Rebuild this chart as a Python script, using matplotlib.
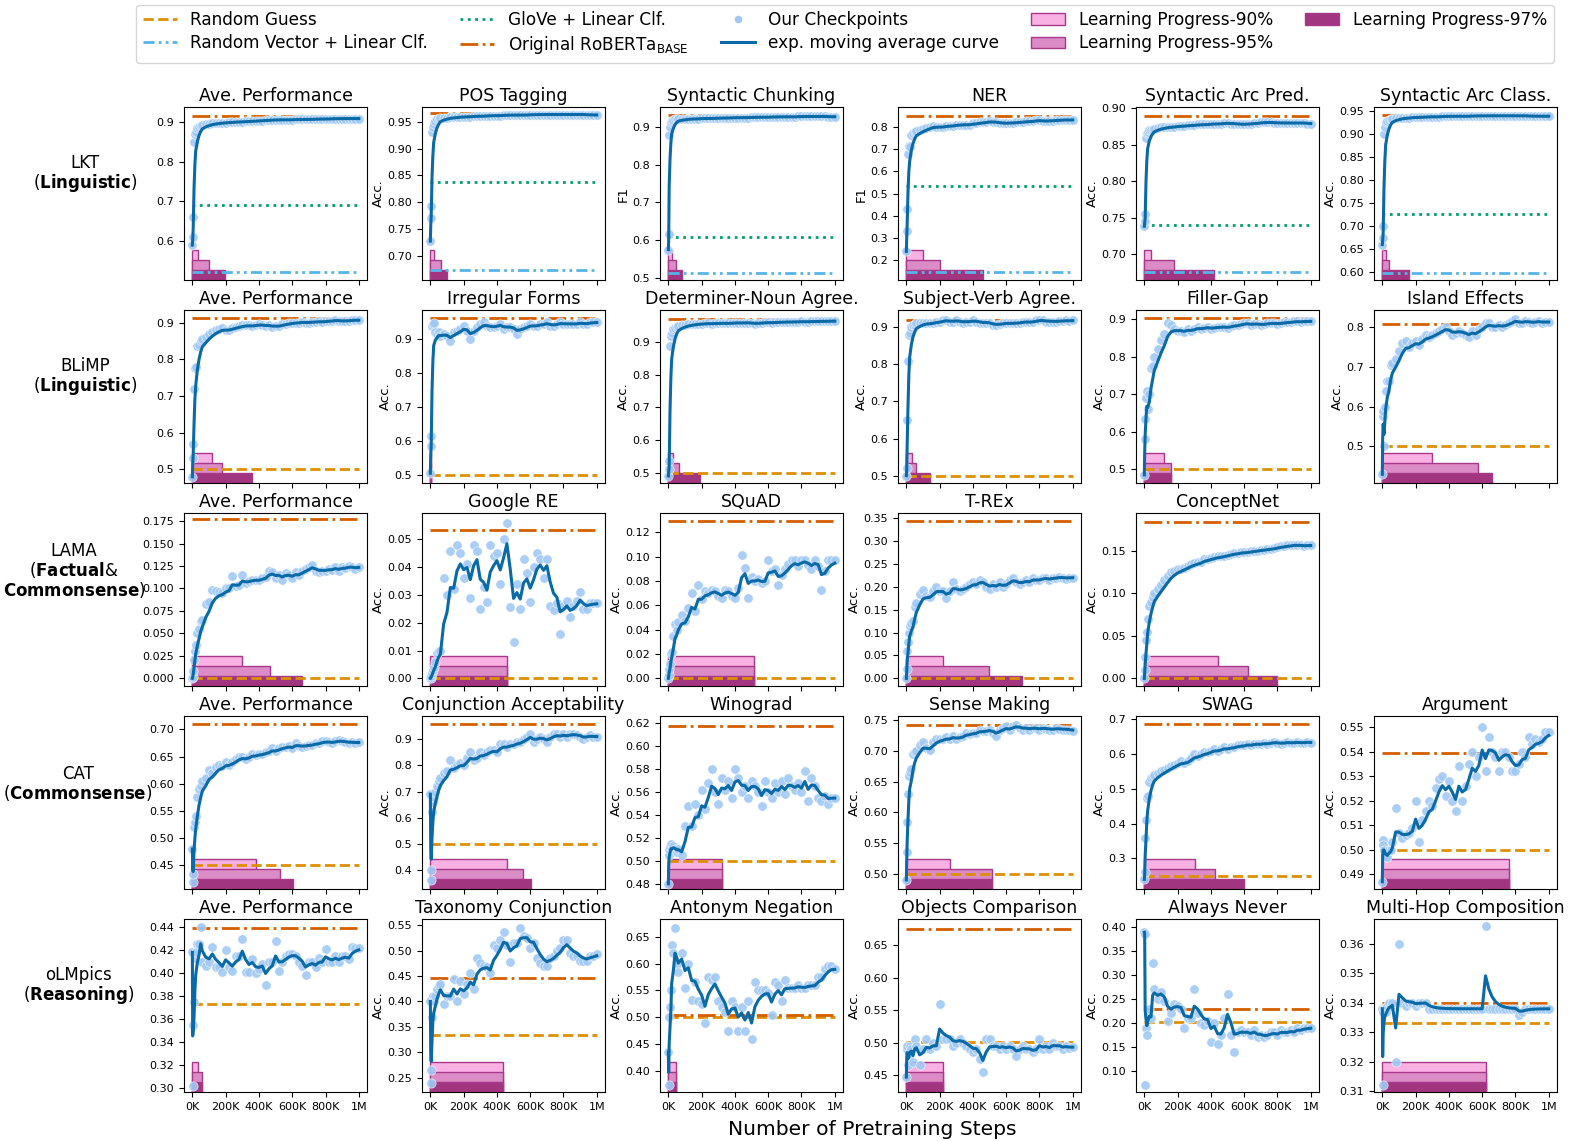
import numpy as np
import pandas as pd
import matplotlib
matplotlib.use('Agg')
import matplotlib.pyplot as plt
from matplotlib.lines import Line2D
from matplotlib.patches import Patch
from matplotlib.ticker import MultipleLocator

# checkpoint steps (in thousands)
STEPS_K = [0, 2, 5, 10, 15, 20, 30, 40, 50, 60,
           80, 100, 120, 140, 160, 180, 200, 220, 240, 260,
           280, 300, 320, 340, 360, 380, 400, 420, 440, 460,
           480, 500, 520, 540, 560, 580, 600, 620, 640, 660,
           680, 700, 720, 740, 760, 780, 800, 820, 840, 860,
           880, 900, 920, 940, 960, 980, 1000]

# ---- LKT ----
LKT_AVE = [0.59, 0.61, 0.66, 0.85, 0.868, 0.875, 0.884, 0.888, 0.89, 0.892,
           0.894, 0.895, 0.896, 0.897, 0.897, 0.898, 0.898, 0.899, 0.899, 0.900,
           0.900, 0.900, 0.901, 0.901, 0.902, 0.902, 0.903, 0.903, 0.904, 0.904,
           0.905, 0.905, 0.905, 0.905, 0.905, 0.905, 0.905, 0.906, 0.906, 0.906,
           0.906, 0.906, 0.906, 0.907, 0.907, 0.907, 0.907, 0.907, 0.908, 0.908,
           0.908, 0.908, 0.908, 0.908, 0.908, 0.908, 0.908]
POS = [0.727, 0.77, 0.792, 0.932, 0.94, 0.946, 0.952, 0.955, 0.956, 0.957,
       0.958, 0.958, 0.959, 0.959, 0.959, 0.960, 0.960, 0.960, 0.960, 0.961,
       0.961, 0.961, 0.961, 0.962, 0.962, 0.962, 0.962, 0.962, 0.963, 0.963,
       0.963, 0.963, 0.963, 0.963, 0.963, 0.963, 0.964, 0.964, 0.964, 0.964,
       0.964, 0.964, 0.964, 0.964, 0.964, 0.964, 0.964, 0.964, 0.964, 0.964,
       0.964, 0.964, 0.964, 0.963, 0.963, 0.963, 0.963]
CHUNK = [0.575, 0.615, 0.88, 0.90, 0.912, 0.916, 0.918, 0.920, 0.920, 0.921,
         0.921, 0.921, 0.922, 0.922, 0.922, 0.922, 0.923, 0.923, 0.923, 0.923,
         0.923, 0.924, 0.924, 0.924, 0.924, 0.925, 0.925, 0.925, 0.925, 0.925,
         0.925, 0.926, 0.926, 0.926, 0.926, 0.926, 0.926, 0.927, 0.927, 0.927,
         0.927, 0.927, 0.927, 0.927, 0.927, 0.928, 0.928, 0.928, 0.928, 0.928,
         0.928, 0.928, 0.928, 0.928, 0.927, 0.927, 0.927]
NER = [0.24, 0.33, 0.43, 0.68, 0.715, 0.71, 0.765, 0.77, 0.775, 0.78,
       0.785, 0.79, 0.795, 0.80, 0.805, 0.80, 0.80, 0.80, 0.805, 0.805,
       0.805, 0.81, 0.81, 0.81, 0.81, 0.81, 0.815, 0.815, 0.82, 0.82,
       0.822, 0.825, 0.822, 0.82, 0.815, 0.815, 0.815, 0.818, 0.818, 0.82,
       0.822, 0.822, 0.825, 0.825, 0.825, 0.83, 0.83, 0.825, 0.825, 0.828,
       0.828, 0.83, 0.83, 0.832, 0.832, 0.83, 0.832]
ARC_PRED = [0.738, 0.745, 0.755, 0.86, 0.866, 0.868, 0.87, 0.87, 0.871, 0.872,
            0.873, 0.874, 0.874, 0.875, 0.875, 0.875, 0.876, 0.876, 0.876, 0.877,
            0.877, 0.877, 0.878, 0.878, 0.878, 0.878, 0.879, 0.879, 0.879, 0.879,
            0.88, 0.88, 0.879, 0.879, 0.878, 0.878, 0.878, 0.879, 0.879, 0.88,
            0.88, 0.881, 0.881, 0.881, 0.881, 0.88, 0.88, 0.88, 0.88, 0.88,
            0.88, 0.88, 0.88, 0.88, 0.88, 0.879, 0.879]
ARC_CLASS = [0.66, 0.675, 0.70, 0.90, 0.915, 0.925, 0.928, 0.93, 0.932, 0.933,
             0.934, 0.934, 0.935, 0.935, 0.935, 0.936, 0.936, 0.936, 0.936, 0.937,
             0.937, 0.937, 0.937, 0.937, 0.938, 0.938, 0.938, 0.938, 0.938, 0.938,
             0.938, 0.938, 0.938, 0.939, 0.939, 0.939, 0.939, 0.939, 0.939, 0.939,
             0.939, 0.939, 0.939, 0.939, 0.939, 0.939, 0.939, 0.939, 0.939, 0.939,
             0.938, 0.938, 0.938, 0.938, 0.938, 0.938, 0.938]

# ---- BLiMP ----
BLIMP_AVE = [0.48, 0.53, 0.57, 0.72, 0.775, 0.78, 0.835, 0.84, 0.85, 0.855,
             0.86, 0.87, 0.875, 0.88, 0.882, 0.885, 0.88, 0.88, 0.885, 0.888,
             0.89, 0.892, 0.893, 0.892, 0.89, 0.893, 0.895, 0.893, 0.89, 0.892,
             0.888, 0.89, 0.89, 0.895, 0.897, 0.898, 0.9, 0.9, 0.9, 0.902,
             0.9, 0.9, 0.902, 0.902, 0.903, 0.902, 0.903, 0.905, 0.905, 0.907,
             0.905, 0.903, 0.905, 0.905, 0.907, 0.907, 0.906]
IRREGULAR = [0.505, 0.585, 0.615, 0.94, 0.945, 0.947, 0.92, 0.915, 0.92, 0.91,
             0.915, 0.91, 0.895, 0.92, 0.925, 0.93, 0.94, 0.925, 0.90, 0.925,
             0.935, 0.945, 0.95, 0.94, 0.935, 0.935, 0.94, 0.945, 0.93, 0.935,
             0.935, 0.93, 0.915, 0.93, 0.935, 0.94, 0.945, 0.94, 0.94, 0.945,
             0.945, 0.95, 0.94, 0.94, 0.945, 0.95, 0.945, 0.945, 0.945, 0.945,
             0.945, 0.95, 0.945, 0.945, 0.95, 0.95, 0.95]
DET_NOUN = [0.49, 0.51, 0.535, 0.89, 0.92, 0.93, 0.94, 0.945, 0.948, 0.95,
            0.952, 0.953, 0.955, 0.955, 0.956, 0.957, 0.957, 0.958, 0.958, 0.957,
            0.958, 0.958, 0.959, 0.958, 0.958, 0.959, 0.96, 0.96, 0.959, 0.96,
            0.96, 0.958, 0.957, 0.958, 0.96, 0.961, 0.961, 0.96, 0.961, 0.962,
            0.962, 0.962, 0.963, 0.962, 0.963, 0.963, 0.964, 0.963, 0.963, 0.964,
            0.964, 0.964, 0.965, 0.964, 0.965, 0.965, 0.965]
SUBJ_VERB = [0.50, 0.52, 0.65, 0.81, 0.88, 0.885, 0.90, 0.905, 0.905, 0.91,
             0.91, 0.912, 0.912, 0.91, 0.912, 0.915, 0.915, 0.918, 0.92, 0.915,
             0.915, 0.918, 0.915, 0.912, 0.915, 0.915, 0.918, 0.915, 0.912, 0.91,
             0.912, 0.91, 0.905, 0.905, 0.908, 0.91, 0.912, 0.91, 0.91, 0.912,
             0.912, 0.915, 0.915, 0.913, 0.915, 0.918, 0.92, 0.918, 0.915, 0.915,
             0.915, 0.915, 0.917, 0.917, 0.918, 0.917, 0.918]
FILLER_GAP = [0.485, 0.58, 0.635, 0.69, 0.71, 0.66, 0.70, 0.77, 0.775, 0.80,
              0.82, 0.845, 0.86, 0.89, 0.885, 0.875, 0.87, 0.87, 0.865, 0.875,
              0.87, 0.875, 0.88, 0.875, 0.878, 0.88, 0.875, 0.878, 0.88, 0.88,
              0.88, 0.878, 0.882, 0.885, 0.885, 0.888, 0.89, 0.89, 0.885, 0.888,
              0.888, 0.885, 0.887, 0.89, 0.89, 0.89, 0.888, 0.89, 0.892, 0.893,
              0.893, 0.895, 0.895, 0.893, 0.895, 0.895, 0.895]
ISLAND = [0.43, 0.575, 0.59, 0.50, 0.60, 0.64, 0.665, 0.665, 0.705, 0.71,
          0.72, 0.74, 0.76, 0.765, 0.75, 0.76, 0.765, 0.755, 0.77, 0.78,
          0.775, 0.78, 0.785, 0.79, 0.795, 0.80, 0.79, 0.78, 0.785, 0.79,
          0.785, 0.78, 0.775, 0.79, 0.78, 0.795, 0.80, 0.81, 0.81, 0.80,
          0.80, 0.805, 0.80, 0.805, 0.81, 0.815, 0.82, 0.81, 0.81, 0.815,
          0.812, 0.81, 0.812, 0.815, 0.81, 0.812, 0.812]

# ---- LAMA ----
LAMA_AVE = [0.0, 0.002, 0.008, 0.02, 0.03, 0.037, 0.05, 0.055, 0.064, 0.065,
            0.083, 0.085, 0.098, 0.097, 0.096, 0.095, 0.1, 0.1, 0.114, 0.103,
            0.104, 0.115, 0.106, 0.108, 0.11, 0.11, 0.109, 0.112, 0.113, 0.12,
            0.118, 0.112, 0.115, 0.11, 0.117, 0.115, 0.112, 0.118, 0.115, 0.12,
            0.122, 0.124, 0.126, 0.12, 0.118, 0.12, 0.12, 0.122, 0.121, 0.124,
            0.12, 0.124, 0.123, 0.125, 0.124, 0.122, 0.124]
GOOGLE_RE = [0.0, 0.0, 0.001, 0.002, 0.003, 0.004, 0.006, 0.009, 0.01, 0.01,
             0.036, 0.03, 0.046, 0.032, 0.048, 0.045, 0.036, 0.041, 0.029, 0.048,
             0.046, 0.025, 0.033, 0.0275, 0.048, 0.044, 0.045, 0.034, 0.05, 0.056,
             0.0255, 0.013, 0.034, 0.025, 0.043, 0.038, 0.0275, 0.04, 0.045, 0.043,
             0.036, 0.043, 0.026, 0.0245, 0.027, 0.016, 0.026, 0.028, 0.022, 0.026,
             0.028, 0.031, 0.025, 0.025, 0.027, 0.027, 0.027]
SQUAD = [0.0, 0.003, 0.008, 0.012, 0.02, 0.022, 0.035, 0.045, 0.04, 0.046,
         0.052, 0.047, 0.058, 0.07, 0.055, 0.077, 0.065, 0.072, 0.07, 0.073,
         0.072, 0.068, 0.066, 0.073, 0.072, 0.068, 0.066, 0.074, 0.101, 0.091,
         0.066, 0.083, 0.08, 0.082, 0.078, 0.08, 0.097, 0.088, 0.09, 0.077,
         0.085, 0.09, 0.094, 0.097, 0.097, 0.092, 0.097, 0.097, 0.093, 0.09,
         0.097, 0.092, 0.073, 0.088, 0.097, 0.097, 0.097]
TREX = [0.0, 0.02, 0.06, 0.08, 0.10, 0.115, 0.12, 0.125, 0.155, 0.165,
        0.185, 0.193, 0.18, 0.178, 0.19, 0.2, 0.19, 0.19, 0.175, 0.19,
        0.21, 0.195, 0.19, 0.195, 0.2, 0.205, 0.21, 0.205, 0.215, 0.21,
        0.2, 0.195, 0.205, 0.2, 0.21, 0.2, 0.205, 0.215, 0.22, 0.21,
        0.205, 0.21, 0.215, 0.21, 0.22, 0.215, 0.215, 0.22, 0.22, 0.215,
        0.22, 0.22, 0.222, 0.22, 0.218, 0.22, 0.22]
CONCEPTNET = [0.0, 0.01, 0.025, 0.045, 0.055, 0.07, 0.085, 0.09, 0.095, 0.1,
              0.105, 0.11, 0.115, 0.12, 0.125, 0.126, 0.128, 0.128, 0.13, 0.132,
              0.134, 0.135, 0.136, 0.137, 0.14, 0.14, 0.141, 0.142, 0.143, 0.143,
              0.144, 0.145, 0.146, 0.147, 0.147, 0.148, 0.148, 0.148, 0.149, 0.15,
              0.15, 0.151, 0.151, 0.152, 0.152, 0.153, 0.154, 0.155, 0.155, 0.156,
              0.156, 0.157, 0.156, 0.156, 0.155, 0.156, 0.156]

# ---- CAT ----
CAT_AVE = [0.48, 0.42, 0.435, 0.52, 0.53, 0.54, 0.575, 0.59, 0.595, 0.605,
           0.61, 0.625, 0.62, 0.63, 0.635, 0.632, 0.64, 0.635, 0.64, 0.645,
           0.65, 0.65, 0.645, 0.65, 0.655, 0.652, 0.655, 0.655, 0.658, 0.66,
           0.665, 0.66, 0.665, 0.668, 0.668, 0.67, 0.665, 0.675, 0.67, 0.668,
           0.67, 0.672, 0.672, 0.675, 0.675, 0.678, 0.678, 0.677, 0.675, 0.678,
           0.68, 0.678, 0.676, 0.675, 0.676, 0.675, 0.676]
CONJ_ACC = [0.69, 0.36, 0.40, 0.62, 0.66, 0.68, 0.70, 0.72, 0.74, 0.75,
            0.77, 0.78, 0.82, 0.79, 0.80, 0.81, 0.80, 0.83, 0.85, 0.82,
            0.83, 0.85, 0.84, 0.85, 0.86, 0.86, 0.85, 0.88, 0.88, 0.87,
            0.88, 0.88, 0.89, 0.89, 0.90, 0.91, 0.92, 0.89, 0.90, 0.91,
            0.90, 0.89, 0.91, 0.92, 0.92, 0.91, 0.92, 0.91, 0.92, 0.92,
            0.915, 0.91, 0.90, 0.91, 0.915, 0.91, 0.91]
WINOGRAD = [0.48, 0.505, 0.51, 0.512, 0.515, 0.51, 0.513, 0.51, 0.508, 0.51,
            0.505, 0.53, 0.548, 0.53, 0.55, 0.54, 0.562, 0.545, 0.568, 0.58,
            0.56, 0.55, 0.572, 0.562, 0.57, 0.555, 0.58, 0.572, 0.56, 0.565,
            0.555, 0.57, 0.565, 0.56, 0.548, 0.57, 0.56, 0.555, 0.568, 0.56,
            0.57, 0.558, 0.572, 0.565, 0.562, 0.568, 0.56, 0.578, 0.552, 0.572,
            0.565, 0.555, 0.552, 0.557, 0.55, 0.555, 0.555]
SENSE = [0.49, 0.535, 0.585, 0.63, 0.66, 0.665, 0.67, 0.695, 0.698, 0.70,
         0.71, 0.715, 0.705, 0.702, 0.715, 0.72, 0.72, 0.72, 0.722, 0.72,
         0.725, 0.72, 0.722, 0.725, 0.73, 0.728, 0.73, 0.73, 0.735, 0.732,
         0.733, 0.735, 0.73, 0.725, 0.735, 0.738, 0.74, 0.735, 0.74, 0.742,
         0.738, 0.735, 0.737, 0.735, 0.738, 0.737, 0.735, 0.738, 0.736, 0.735,
         0.735, 0.737, 0.736, 0.735, 0.735, 0.734, 0.733]
SWAG = [0.24, 0.26, 0.36, 0.41, 0.475, 0.48, 0.52, 0.53, 0.535, 0.54,
        0.545, 0.55, 0.555, 0.56, 0.565, 0.57, 0.575, 0.58, 0.575, 0.58,
        0.59, 0.6, 0.595, 0.6, 0.605, 0.605, 0.61, 0.615, 0.61, 0.615,
        0.62, 0.615, 0.62, 0.62, 0.625, 0.625, 0.625, 0.63, 0.625, 0.63,
        0.63, 0.628, 0.632, 0.63, 0.633, 0.635, 0.632, 0.63, 0.632, 0.635,
        0.632, 0.633, 0.635, 0.632, 0.633, 0.635, 0.633]
ARGUMENT = [0.487, 0.504, 0.502, 0.50, 0.498, 0.497, 0.497, 0.50, 0.50, 0.503,
            0.517, 0.507, 0.505, 0.506, 0.507, 0.509, 0.52, 0.503, 0.512, 0.516,
            0.52, 0.518, 0.525, 0.529, 0.53, 0.522, 0.528, 0.52, 0.516, 0.534,
            0.52, 0.526, 0.535, 0.54, 0.53, 0.538, 0.55, 0.532, 0.546, 0.54,
            0.538, 0.532, 0.54, 0.54, 0.538, 0.532, 0.532, 0.535, 0.54, 0.538,
            0.546, 0.543, 0.545, 0.544, 0.545, 0.548, 0.548]

# ---- oLMpics ----
OLM_AVE = [0.418, 0.302, 0.355, 0.375, 0.413, 0.418, 0.425, 0.425, 0.44, 0.41,
           0.406, 0.41, 0.423, 0.405, 0.405, 0.401, 0.42, 0.405, 0.402, 0.415,
           0.415, 0.43, 0.401, 0.401, 0.412, 0.40, 0.404, 0.408, 0.39, 0.41,
           0.41, 0.428, 0.402, 0.41, 0.415, 0.417, 0.417, 0.415, 0.41, 0.406,
           0.398, 0.41, 0.41, 0.405, 0.413, 0.41, 0.421, 0.41, 0.41, 0.415,
           0.41, 0.415, 0.415, 0.412, 0.423, 0.422, 0.422]
TAXONOMY = [0.40, 0.24, 0.265, 0.37, 0.41, 0.40, 0.41, 0.425, 0.43, 0.435,
            0.395, 0.41, 0.41, 0.445, 0.40, 0.44, 0.415, 0.435, 0.455, 0.425,
            0.485, 0.475, 0.47, 0.468, 0.455, 0.51, 0.505, 0.52, 0.537, 0.51,
            0.477, 0.515, 0.515, 0.545, 0.528, 0.525, 0.505, 0.515, 0.485, 0.475,
            0.47, 0.47, 0.485, 0.49, 0.50, 0.505, 0.52, 0.52, 0.495, 0.49,
            0.49, 0.48, 0.48, 0.48, 0.49, 0.49, 0.493]
ANTONYM = [0.435, 0.375, 0.50, 0.52, 0.55, 0.635, 0.62, 0.667, 0.60, 0.585,
           0.62, 0.555, 0.60, 0.533, 0.565, 0.53, 0.525, 0.49, 0.575, 0.57,
           0.575, 0.53, 0.52, 0.51, 0.475, 0.53, 0.52, 0.475, 0.52, 0.475,
           0.53, 0.46, 0.565, 0.55, 0.55, 0.55, 0.545, 0.505, 0.565, 0.56,
           0.53, 0.57, 0.555, 0.555, 0.555, 0.56, 0.555, 0.555, 0.56, 0.56,
           0.56, 0.575, 0.575, 0.59, 0.595, 0.595, 0.59]
OBJ_COMP = [0.447, 0.49, 0.495, 0.465, 0.48, 0.495, 0.49, 0.47, 0.505, 0.495,
            0.465, 0.49, 0.505, 0.49, 0.50, 0.495, 0.56, 0.505, 0.505, 0.505,
            0.495, 0.50, 0.505, 0.50, 0.495, 0.49, 0.485, 0.49, 0.475, 0.455,
            0.505, 0.505, 0.495, 0.495, 0.49, 0.495, 0.49, 0.495, 0.49, 0.48,
            0.49, 0.495, 0.49, 0.49, 0.485, 0.49, 0.505, 0.49, 0.495, 0.49,
            0.50, 0.495, 0.495, 0.49, 0.495, 0.492, 0.493]
ALWAYS_NEVER = [0.39, 0.385, 0.07, 0.19, 0.175, 0.215, 0.23, 0.21, 0.325, 0.27,
                0.25, 0.265, 0.245, 0.205, 0.22, 0.24, 0.235, 0.23, 0.19, 0.21,
                0.21, 0.27, 0.22, 0.20, 0.195, 0.205, 0.16, 0.20, 0.155, 0.175,
                0.21, 0.26, 0.175, 0.14, 0.18, 0.185, 0.18, 0.18, 0.175, 0.185,
                0.17, 0.175, 0.17, 0.175, 0.18, 0.18, 0.175, 0.185, 0.18, 0.18,
                0.185, 0.18, 0.19, 0.185, 0.19, 0.19, 0.19]
MULTI_HOP = [0.338, 0.312, 0.337, 0.338, 0.338, 0.337, 0.339, 0.34, 0.339, 0.34,
             0.32, 0.36, 0.34, 0.339, 0.34, 0.34, 0.339, 0.34, 0.34, 0.34,
             0.338, 0.338, 0.338, 0.338, 0.338, 0.338, 0.338, 0.338, 0.338, 0.338,
             0.338, 0.338, 0.338, 0.338, 0.338, 0.338, 0.338, 0.366, 0.338, 0.338,
             0.338, 0.338, 0.338, 0.338, 0.338, 0.338, 0.338, 0.336, 0.337, 0.338,
             0.338, 0.338, 0.338, 0.338, 0.338, 0.338, 0.338]

ROW_LABELS = ['LKT\n($\\mathbf{Linguistic}$)',
              'BLiMP\n($\\mathbf{Linguistic}$)',
              'LAMA\n($\\mathbf{Factual}$&\n$\\mathbf{Commonsense}$)',
              'CAT\n($\\mathbf{Commonsense}$)',
              'oLMpics\n($\\mathbf{Reasoning}$)']

# panel table: title, values, ylabel, baselines (guess, rand vec, glove, roberta),
# learning progress steps (90/95/97 %, in K)
PANELS = [
    [dict(t='Ave. Performance', y=LKT_AVE, yl='', b=(None, 0.522, 0.69, 0.915), lp=(35, 102, 195)),
     dict(t='POS Tagging', y=POS, yl='Acc.', b=(None, 0.672, 0.838, 0.967), lp=(20, 61, 102)),
     dict(t='Syntactic Chunking', y=CHUNK, yl='F1', b=(None, 0.514, 0.608, 0.933), lp=(24, 43, 82)),
     dict(t='NER', y=NER, yl='F1', b=(None, 0.146, 0.532, 0.85), lp=(100, 200, 458)),
     dict(t='Syntactic Arc Pred.', y=ARC_PRED, yl='Acc.', b=(None, 0.675, 0.74, 0.89), lp=(40, 176, 420)),
     dict(t='Syntactic Arc Class.', y=ARC_CLASS, yl='Acc.', b=(None, 0.598, 0.726, 0.94), lp=(24, 43, 162))],
    [dict(t='Ave. Performance', y=BLIMP_AVE, yl='', b=(0.5, None, None, 0.911), lp=(118, 177, 360)),
     dict(t='Irregular Forms', y=IRREGULAR, yl='Acc.', b=(0.5, None, None, 0.962), lp=(4, 5, 6)),
     dict(t='Determiner-Noun Agree.', y=DET_NOUN, yl='Acc.', b=(0.5, None, None, 0.972), lp=(27, 64, 191)),
     dict(t='Subject-Verb Agree.', y=SUBJ_VERB, yl='Acc.', b=(0.5, None, None, 0.92), lp=(35, 59, 140)),
     dict(t='Filler-Gap', y=FILLER_GAP, yl='Acc.', b=(0.5, None, None, 0.903), lp=(116, 162, 162)),
     dict(t='Island Effects', y=ISLAND, yl='Acc.', b=(0.5, None, None, 0.808), lp=(298, 576, 660))],
    [dict(t='Ave. Performance', y=LAMA_AVE, yl='', b=(0.0, None, None, 0.177), lp=(298, 465, 656)),
     dict(t='Google RE', y=GOOGLE_RE, yl='Acc.', b=(0.0, None, None, 0.0535), lp=(461, 461, 461)),
     dict(t='SQuAD', y=SQUAD, yl='Acc.', b=(0.0, None, None, 0.129), lp=(517, 517, 517)),
     dict(t='T-REx', y=TREX, yl='Acc.', b=(0.0, None, None, 0.343), lp=(218, 497, 696)),
     dict(t='ConceptNet', y=CONCEPTNET, yl='Acc.', b=(0.0, None, None, 0.184), lp=(440, 622, 797)),
     None],
    [dict(t='Ave. Performance', y=CAT_AVE, yl='', b=(0.45, None, None, 0.709), lp=(382, 524, 602)),
     dict(t='Conjunction Acceptability', y=CONJ_ACC, yl='Acc.', b=(0.5, None, None, 0.957), lp=(461, 558, 603)),
     dict(t='Winograd', y=WINOGRAD, yl='Acc.', b=(0.5, None, None, 0.618), lp=(324, 324, 324)),
     dict(t='Sense Making', y=SENSE, yl='Acc.', b=(0.5, None, None, 0.742), lp=(261, 516, 516)),
     dict(t='SWAG', y=SWAG, yl='Acc.', b=(0.25, None, None, 0.686), lp=(303, 422, 600)),
     dict(t='Argument', y=ARGUMENT, yl='Acc.', b=(0.5, None, None, 0.5395), lp=(759, 759, 759))],
    [dict(t='Ave. Performance', y=OLM_AVE, yl='', b=(0.373, None, None, 0.439), lp=(35, 59, 59)),
     dict(t='Taxonomy Conjunction', y=TAXONOMY, yl='Acc.', b=(0.334, None, None, 0.446), lp=(438, 438, 438)),
     dict(t='Antonym Negation', y=ANTONYM, yl='Acc.', b=(0.50, None, None, 0.504), lp=(43, 43, 43)),
     dict(t='Objects Comparison', y=OBJ_COMP, yl='Acc.', b=(0.501, None, None, 0.675), lp=(220, 220, 220)),
     dict(t='Always Never', y=ALWAYS_NEVER, yl='Acc.', b=(0.201, None, None, 0.23), lp=(0, 0, 0)),
     dict(t='Multi-Hop Composition', y=MULTI_HOP, yl='Acc.', b=(0.3333, None, None, 0.34), lp=(621, 621, 621))],
]

# axis ranges and tick spacing (layout)
YLIMS = [[(0.502, 0.937), (0.654, 0.978), (0.494, 0.953), (0.111, 0.889), (0.664, 0.902), (0.583, 0.958)],
         [(0.463, 0.934), (0.476, 0.986), (0.468, 0.999), (0.48, 0.946), (0.463, 0.925), (0.408, 0.842)],
         [(-0.0086, 0.184), (-0.0028, 0.0595), (-0.0063, 0.1359), (-0.0168, 0.361), (-0.009, 0.194), None],
         [(0.4065, 0.7245), (0.327, 0.989), (0.4754, 0.6264), (0.475, 0.757), (0.212, 0.7095), (0.484, 0.5545)],
         [(0.2968, 0.447), (0.222, 0.562), (0.361, 0.683), (0.424, 0.69), (0.0554, 0.4174), (0.3097, 0.3685)]]
YSTEP = [[0.1, 0.05, 0.1, 0.1, 0.05, 0.05],
         [0.1, 0.1, 0.1, 0.1, 0.1, 0.1],
         [0.025, 0.01, 0.02, 0.05, 0.05, None],
         [0.05, 0.1, 0.02, 0.05, 0.1, 0.01],
         [0.02, 0.05, 0.05, 0.05, 0.05, 0.01]]

C_GUESS = '#DE8F05'
C_RV = '#56B4E9'
C_GLOVE = '#029E73'
C_ROB = '#D55E00'
C_PT = '#a1c9f4'
C_EMA = '#0a6aa8'
LP_COLORS = ['#f9b0e3', '#db8bc6', '#a2357f']
LP_EDGE = '#a8388a'
LP_FRAC = [0.175, 0.117, 0.058]
RV_DASH = (0, (4, 1.5, 1, 1.5, 1, 1.5))
BASE_STYLES = [dict(color=C_GUESS, ls='--'), dict(color=C_RV, ls=RV_DASH),
               dict(color=C_GLOVE, ls=':'), dict(color=C_ROB, ls='-.')]

fig = plt.figure(figsize=(15.69, 11.41), dpi=100)
gs = fig.add_gridspec(5, 6, left=0.1173, right=0.9924, top=0.9062, bottom=0.0429,
                      wspace=0.30, hspace=0.173)

xs = np.array(STEPS_K)
for r in range(5):
    for c in range(6):
        ax = fig.add_subplot(gs[r, c])
        p = PANELS[r][c]
        if p is None:
            ax.axis('off')
            continue
        y0, y1 = YLIMS[r][c]
        span = y1 - y0
        # learning progress bars
        for w, f, col in zip(p['lp'], LP_FRAC, LP_COLORS):
            if w > 0:
                ax.bar(0, f * span, width=w, bottom=y0, align='edge', color=col,
                       edgecolor=LP_EDGE, linewidth=1, zorder=1)
        # reference lines
        for v, st in zip(p['b'], BASE_STYLES):
            if v is not None:
                ax.plot([xs[0], xs[-1]], [v, v], lw=2, zorder=2, **st)
        vals = np.array(p['y'])
        ax.scatter(xs, vals, s=45, color=C_PT, edgecolor='white', linewidth=0.4,
                   alpha=0.9, zorder=3)
        ema = pd.Series(vals).ewm(alpha=0.4).mean()
        ax.plot(xs, ema, color=C_EMA, lw=2.2, zorder=4)

        ax.set_xlim(-50, 1050)
        ax.set_ylim(y0, y1)
        ax.yaxis.set_major_locator(MultipleLocator(YSTEP[r][c]))
        ax.set_xticks([0, 200, 400, 600, 800, 1000])
        ax.set_xticklabels(['0K', '200K', '400K', '600K', '800K', '1M'])
        ax.tick_params(labelsize=8)
        if r < 4:
            ax.tick_params(labelbottom=False)
        ax.set_title(p['t'], fontsize=12.5, pad=4)
        if p['yl']:
            ax.set_ylabel(p['yl'], fontsize=9.5, labelpad=2)

row_x = [85, 85, 74, 78, 79]
for r, lab in enumerate(ROW_LABELS):
    yb = 1 - (194 + 203 * r) / 1141
    fig.text(row_x[r] / 1569, yb, lab, ha='center', va='bottom', fontsize=12,
             multialignment='center', linespacing=1.0)

fig.text(0.556, 0.010, 'Number of Pretraining Steps', ha='center', va='center', fontsize=14.6)

handles = [
    Line2D([], [], color=C_GUESS, ls='--', lw=2, label='Random Guess'),
    Line2D([], [], color=C_RV, ls=RV_DASH, lw=2, label='Random Vector + Linear Clf.'),
    Line2D([], [], color=C_GLOVE, ls=':', lw=2, label='GloVe + Linear Clf.'),
    Line2D([], [], color=C_ROB, ls='-.', lw=2, label='Original RoBERTa$_{\\mathrm{BASE}}$'),
    Line2D([], [], color=C_PT, marker='o', ls='none', ms=4.5, label='Our Checkpoints'),
    Line2D([], [], color=C_EMA, lw=2.2, label='exp. moving average curve'),
    Patch(facecolor=LP_COLORS[0], edgecolor=LP_EDGE, label='Learning Progress-90%'),
    Patch(facecolor=LP_COLORS[1], edgecolor=LP_EDGE, label='Learning Progress-95%'),
    Patch(facecolor=LP_COLORS[2], edgecolor=LP_EDGE, label='Learning Progress-97%'),
]
fig.legend(handles=handles, ncol=5, loc='upper center', bbox_to_anchor=(0.5385, 0.999),
           fontsize=12.2, columnspacing=1.9, handlelength=2.0, labelspacing=0.3,
           borderaxespad=0.2)

fig.savefig('out.png', dpi=100)
